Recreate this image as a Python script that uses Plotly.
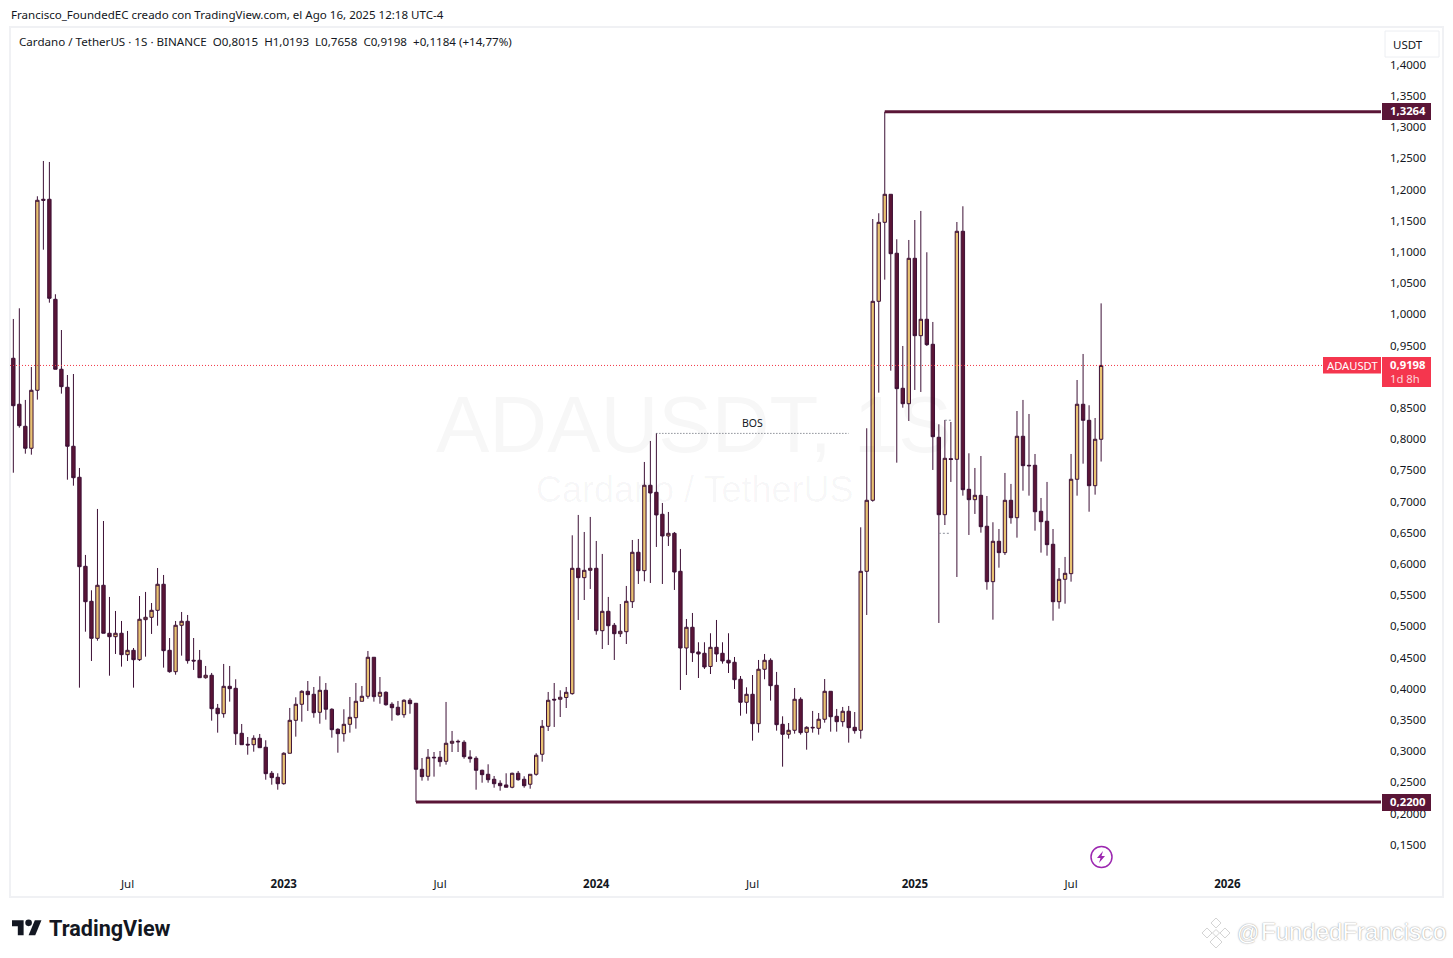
import pandas as pd
import plotly.graph_objects as go

FIRST_WEEK = "2022-02-21"
opens = [.9313,.8576,.8223,.7871,.8800,1.1861,1.1861,1.0258,.9137,.8848,.7903,.7406,.5979,.5418,.4825,.5675,.4906,.4851,.4906,.4563,
.4633,.4483,.5124,.5162,.5274,.5691,.4633,.4290,.5034,.5098,.4473,.4473,.4194,.4233,.3704,.3617,.4056,.4024,.3303,.3127,
.3120,.3223,.3079,.2662,.2598,.2495,.2983,.3511,.3768,.3976,.3928,.3640,.3992,.3688,.3367,.3297,.3447,.3553,.3816,.3896,
.4521,.3896,.3960,.3768,.3720,.3601,.3832,.3784,.2726,.2614,.2919,.2919,.2854,.3143,.3175,.3159,.2923,.2902,.2710,.2646,
.2566,.2502,.2475,.2438,.2662,.2566,.2486,.2646,.2967,.3415,.3848,.3848,.3877,.3938,.5947,.5797,.5915,.5947,.4947,.5258,
.5034,.4899,.4931,.5412,.6204,.5909,.7278,.7165,.6813,.6465,.6508,.5899,.4670,.5002,.4606,.4585,.4374,.4681,.4585,.4473,
.4441,.4169,.3800,.3928,.3457,.4329,.4473,.4072,.3447,.3287,.3351,.3848,.3319,.3399,.3383,.3528,.3976,.3575,.3489,.3656,
.3399,.3351,.5899,.7037,1.0226,1.1492,1.1941,1.0996,.8832,.8585,1.0915,.9675,.9938,.9537,.8047,.6806,.7704,.7694,1.1348,.7213,
.7047,.7117,.6621,.5733,.6380,.6198,.7037,.6758,.8063,.7598,.7598,.6861,.6701,.6332,.5412,.5771,.5861,.7374,.8576,.8319,
.7271,.8015]
highs = [.9943,1.0114,.8645,.9173,1.1909,1.2475,1.2459,1.0339,.9766,.9045,.9061,.7555,.6161,.5595,.6898,.6705,.5488,.5263,.5103,.4943,
.4670,.5503,.5568,.5391,.5952,.5840,.4830,.5103,.5247,.5199,.4830,.4638,.4382,.4270,.3773,.4414,.4382,.4169,.3452,.3244,
.3271,.3292,.3191,.2699,.2662,.2999,.3709,.3880,.3992,.4141,.4045,.4217,.4109,.3704,.3383,.3688,.3885,.4109,.4061,.4622,
.4521,.4205,.3976,.3800,.3821,.3848,.3864,.3784,.2907,.3051,.3003,.3019,.3805,.3340,.3201,.3191,.3031,.2934,.2720,.2806,
.2619,.2550,.2662,.2672,.2699,.2614,.2646,.2983,.3516,.3965,.4109,.3992,.4045,.6476,.6802,.6529,.6770,.6385,.6177,.5488,
.5071,.5375,.5664,.6401,.6417,.7651,.7988,.8111,.6994,.6850,.6529,.6257,.5135,.5231,.4762,.4762,.4906,.5119,.4762,.4906,
.4526,.4221,.4040,.4237,.4478,.4574,.4505,.4286,.3575,.3468,.4029,.3880,.3415,.3661,.3628,.4173,.3976,.3693,.3725,.3741,
.3644,.6604,.8191,1.1545,1.1637,1.3264,1.1941,1.1220,.9510,1.1209,1.1529,1.1674,1.1012,.9895,.8255,.8324,.8292,1.1497,1.1749,.7790,
.7555,.7747,.7106,.6685,.6577,.7475,.7299,.8468,.8645,.8420,.7779,.7074,.7331,.6577,.5952,.6129,.7779,.8965,.9382,.8560,
.8356,1.0193]
lows = [.7479,.8201,.7784,.7768,.8650,1.1053,1.0204,.9137,.8746,.7367,.7271,.4034,.4931,.4462,.4787,.4906,.4226,.4574,.4371,.4462,
.4034,.4462,.4531,.4895,.5027,.4355,.4274,.4242,.4547,.4419,.4318,.4194,.4178,.3505,.3313,.3553,.3810,.3116,.3120,.2960,
.3008,.3072,.2559,.2479,.2399,.2479,.2983,.3249,.3489,.3661,.3553,.3457,.3521,.3233,.2992,.3169,.3313,.3377,.3816,.3858,
.3810,.3777,.3745,.3505,.3585,.3553,.3617,.2200,.2544,.2544,.2608,.2768,.2800,.3003,.3003,.2896,.2832,.2399,.2511,.2511,
.2431,.2383,.2438,.2422,.2544,.2431,.2415,.2624,.2848,.3340,.3404,.3564,.3708,.3922,.5119,.5439,.5616,.4883,.4654,.4718,
.4478,.4846,.4734,.5311,.5696,.5739,.5712,.6289,.5696,.6305,.5600,.3997,.4237,.4446,.4189,.4334,.4253,.4446,.4419,.4269,
.4013,.3585,.3617,.3185,.3313,.4169,.3826,.3345,.2768,.3217,.3297,.3281,.3040,.3313,.3281,.3473,.3329,.3329,.3409,.3153,
.3297,.3217,.5199,.7015,.8762,1.0573,.9114,.7640,.8521,.8308,.8805,.8773,.9510,.7523,.5071,.6641,.7331,.5808,.7111,.6481,
.6818,.6518,.5604,.5124,.5957,.6161,.6662,.6438,.7191,.7111,.6550,.6198,.6149,.5108,.5300,.5380,.5733,.7111,.7624,.6854,
.7127,.7658]
closes = [.8553,.8233,.7871,.8800,1.1845,1.1845,1.0274,.9137,.8858,.7903,.7399,.5973,.5412,.4825,.5675,.4906,.4851,.4906,.4563,.4633,
.4483,.5130,.5162,.5274,.5691,.4627,.4290,.5034,.5098,.4467,.4462,.4194,.4233,.3697,.3617,.4056,.4018,.3297,.3120,.3116,
.3223,.3072,.2656,.2592,.2495,.2983,.3511,.3768,.3976,.3922,.3633,.3992,.3688,.3361,.3297,.3447,.3559,.3816,.3896,.4521,
.3890,.3960,.3761,.3713,.3601,.3832,.3778,.2726,.2608,.2919,.2911,.2848,.3143,.3175,.3167,.2928,.2896,.2710,.2640,.2559,
.2495,.2463,.2438,.2662,.2559,.2463,.2646,.2951,.3415,.3832,.3837,.3880,.3960,.5947,.5797,.5915,.5947,.4947,.5258,.5027,
.4899,.4938,.5418,.6204,.5909,.7278,.7154,.6802,.6465,.6508,.5888,.4670,.5002,.4595,.4574,.4366,.4681,.4574,.4462,.4430,
.4162,.3800,.3928,.3457,.4329,.4473,.4066,.3441,.3287,.3351,.3848,.3313,.3399,.3391,.3528,.3976,.3569,.3489,.3656,.3393,
.3345,.5899,.7037,1.0226,1.1492,1.1941,1.0989,.8826,.8585,1.0915,.9675,.9938,.9531,.8056,.6806,.7710,.7691,1.1348,.7207,.7047,
.7117,.6614,.5733,.6380,.6198,.7037,.6758,.8063,.7592,.7590,.6854,.6694,.6326,.5412,.5771,.5867,.7374,.8576,.8319,.7271,
.8015,.9198]
price_ticks = [.15,.20,.25,.30,.35,.40,.45,.50,.55,.60,.65,.70,.75,.80,.85,.90,.95,1.00,1.05,1.10,1.15,1.20,1.25,1.30,1.35,1.40]
date_ticks = ["2022-07-04","2023-01-02","2023-07-03","2024-01-01","2024-07-01","2025-01-06","2025-07-07","2026-01-05"]
date_labels = ["Jul","<b>2023</b>","Jul","<b>2024</b>","Jul","<b>2025</b>","Jul","<b>2026</b>"]
HIGH_LEVEL, HIGH_LEVEL_DATE = 1.3264, "2024-12-02"
LOW_LEVEL, LOW_LEVEL_DATE = 0.2200, "2023-06-05"
LAST_PRICE = 0.9198
BOS_LEVEL, BOS_START, BOS_END = 0.8109, "2024-03-11", "2024-10-21"
AXIS_RANGE_X = ["2022-02-17 03:00", "2026-07-03"]
AXIS_RANGE_Y = [0.1112, 1.4622]

DARK, GOLD, EDGE = "#5a1536", "#e8c272", "#3d1036"
TEXT = "#131722"
RED = "#f5364e"
FONT = "Noto Sans"

weeks = pd.date_range(FIRST_WEEK, periods=len(opens), freq="7D").strftime("%Y-%m-%d").tolist()

PL, PR, PT, PB = 10, 1381, 27, 870
def X(p): return (p - PL) / (PR - PL)
def Y(p): return (PB - p) / (PB - PT)

fig = go.Figure()
fig.add_trace(go.Candlestick(
    x=weeks, open=opens, high=highs, low=lows, close=closes, whiskerwidth=0,
    increasing=dict(line=dict(color=EDGE, width=1), fillcolor=GOLD),
    decreasing=dict(line=dict(color=EDGE, width=1), fillcolor=DARK),
    showlegend=False, hoverinfo="skip"))
fig.add_trace(go.Scatter(x=[HIGH_LEVEL_DATE, AXIS_RANGE_X[1]], y=[HIGH_LEVEL]*2, mode="lines",
                         line=dict(color=DARK, width=3), showlegend=False, hoverinfo="skip"))
fig.add_trace(go.Scatter(x=[LOW_LEVEL_DATE, AXIS_RANGE_X[1]], y=[LOW_LEVEL]*2, mode="lines",
                         line=dict(color=DARK, width=3), showlegend=False, hoverinfo="skip"))
fig.add_trace(go.Scatter(x=[BOS_START, BOS_END], y=[BOS_LEVEL]*2, mode="lines",
                         line=dict(color="#555a66", width=1, dash="1px 2px"), showlegend=False, hoverinfo="skip"))
fig.add_trace(go.Scatter(x=["2025-02-03", "2025-02-17"], y=[0.6508]*2, mode="lines",
                         line=dict(color="#8a8e99", width=1, dash="2px 2px"), showlegend=False, hoverinfo="skip"))
fig.add_trace(go.Scatter(x=["2025-02-10", "2025-02-17"], y=[0.8320]*2, mode="lines",
                         line=dict(color="#8a8e99", width=1, dash="2px 2px"), showlegend=False, hoverinfo="skip"))

shapes = []
ann = []
def rect(x0, y0, x1, y1, fill="rgba(0,0,0,0)", line="rgba(0,0,0,0)", w=1):
    shapes.append(dict(type="rect", xref="paper", yref="paper", x0=X(x0), x1=X(x1), y0=Y(y0), y1=Y(y1),
                       fillcolor=fill, line=dict(color=line, width=w), layer="above"))
def poly(pts, fill, line="rgba(0,0,0,0)", w=1):
    d = "M" + " L".join(f"{X(a):.5f},{Y(b):.5f}" for a, b in pts) + " Z"
    shapes.append(dict(type="path", xref="paper", yref="paper", path=d, fillcolor=fill,
                       line=dict(color=line, width=w), layer="above"))
def note(x, y, text, size=12, color=TEXT, anchor="left", family=FONT, **kw):
    ann.append(dict(xref="paper", yref="paper", x=X(x), y=Y(y), text=text, showarrow=False, xanchor=anchor,
                    yanchor="middle", align=anchor, font=dict(size=size, color=color, family=family),
                    borderpad=0, **kw))

# chart frame
rect(10, 27, 1443, 897, line="#f0f1f4", w=2)
# last price dotted
shapes.append(dict(type="line", xref="paper", yref="y", x0=0, x1=X(1323), y0=LAST_PRICE, y1=LAST_PRICE,
                   line=dict(color="#f23645", width=1, dash="1px 2px"), layer="above"))
# price tags
rect(1382, 103, 1431, 120, fill=DARK)
rect(1382, 794, 1431, 811, fill=DARK)
rect(1323, 357, 1381, 373.5, fill=RED)
rect(1382, 357, 1431, 387, fill=RED)
note(1408, 110.5, f"<b>{HIGH_LEVEL:.4f}</b>".replace(".", ","), size=11.3, color="white", anchor="center")
note(1408, 801.5, f"<b>{LOW_LEVEL:.4f}</b>".replace(".", ","), size=11.3, color="white", anchor="center")
note(1352, 365.5, "ADAUSDT", color="white", anchor="center", size=11.2)
note(1408, 364.5, f"<b>{LAST_PRICE:.4f}</b>".replace(".", ","), size=11.3, color="white", anchor="center")
note(1405, 378.5, "1d 8h", size=11.3, color="rgba(255,255,255,0.8)", anchor="center")
# USDT button
rect(1385, 31, 1439, 57, fill="white", line="#eceef2")
note(1408, 44, "USDT", anchor="center", size=11.5)
# headers
note(10, 14.5, "Francisco_FoundedEC creado con TradingView.com, el Ago 16, 2025 12:18 UTC-4", size=11.55)
note(18, 41.5, "Cardano / TetherUS · 1S · BINANCE&nbsp;&nbsp;O0,8015&nbsp;&nbsp;H1,0193&nbsp;&nbsp;L0,7658&nbsp;&nbsp;C0,9198&nbsp;&nbsp;+0,1184 (+14,77%)", size=11.6)
note(752, 423, "BOS", size=10.5, anchor="center")
# watermarks
note(694, 424, "ADAUSDT, 1S", size=80, color="rgba(19,23,34,0.035)", anchor="center", family="Liberation Sans")
note(695, 489, "Cardano / TetherUS", size=36, color="rgba(19,23,34,0.035)", anchor="center", family="Liberation Sans")
# event icon
shapes.append(dict(type="circle", xref="paper", yref="paper", x0=X(1091), x1=X(1112), y0=Y(846.5), y1=Y(867.5),
                   line=dict(color="#9c27b0", width=1.5), fillcolor="white", layer="above"))
poly([(1103, 851), (1097, 858), (1100.5, 858), (1099, 863), (1105, 856), (1101.5, 856)], "#9c27b0")
# TradingView logo
s = 0.83
ox, oy = 12, 917
poly([(ox + a*s, oy + b*s) for a, b in [(0,4),(14,4),(14,22),(7,22),(7,11),(0,11)]], TEXT)
poly([(ox + a*s, oy + b*s) for a, b in [(27.5,4),(35.5,4),(28,22),(20,22)]], TEXT)
shapes.append(dict(type="circle", xref="paper", yref="paper", x0=X(ox+16*s), x1=X(ox+24*s), y0=Y(oy+3*s), y1=Y(oy+11*s),
                   fillcolor=TEXT, line=dict(width=0), layer="above"))
note(47.5, 928, "<b>TradingView</b>", size=21.6, family="Roboto")
# bottom-right signature
cx, cy = 1216, 933
for dx, dy, r in [(0,-10,5),(-9,0,5),(9,0,5),(0,9,6),(0,0,3.5)]:
    poly([(cx+dx, cy+dy-r), (cx+dx+r, cy+dy), (cx+dx, cy+dy+r), (cx+dx-r, cy+dy)], "#ffffff", line="#d4d4d4")
note(1236, 932, "@", size=22, color="#ffffff", family="Liberation Sans")
ann[-1]["font"]["shadow"] = "0 0 1.5px #777777"
note(1260, 931, "FundedFrancisco", size=24, color="#ffffff", family="Liberation Sans")
ann[-1]["font"]["shadow"] = "0 0 1.5px #777777"

fig.update_layout(
    width=1453, height=958, autosize=False, paper_bgcolor="white", plot_bgcolor="white",
    margin=dict(l=PL, r=1453-PR, t=PT, b=958-PB, pad=0), separators=",.", boxgap=0.2,
    font=dict(family=FONT, size=12, color=TEXT), showlegend=False,
    shapes=shapes, annotations=ann,
    xaxis=dict(type="date", range=AXIS_RANGE_X, tickmode="array", tickvals=date_ticks, ticktext=date_labels,
               showgrid=False, zeroline=False, showline=False, ticks="", rangeslider=dict(visible=False),
               tickfont=dict(size=11.5, color=TEXT), tickangle=0, ticklabelstandoff=5),
    yaxis=dict(side="right", range=AXIS_RANGE_Y, tickmode="array", tickvals=price_ticks, tickformat=".4f",
               showgrid=False, zeroline=False, showline=False, ticks="",
               tickfont=dict(size=11.5, color=TEXT), ticklabelstandoff=8, ticklabelshift=-1),
)
fig.write_html("out.html", config=dict(displayModeBar=False),
               post_script="document.body.style.margin='0';document.body.style.overflow='hidden';")
